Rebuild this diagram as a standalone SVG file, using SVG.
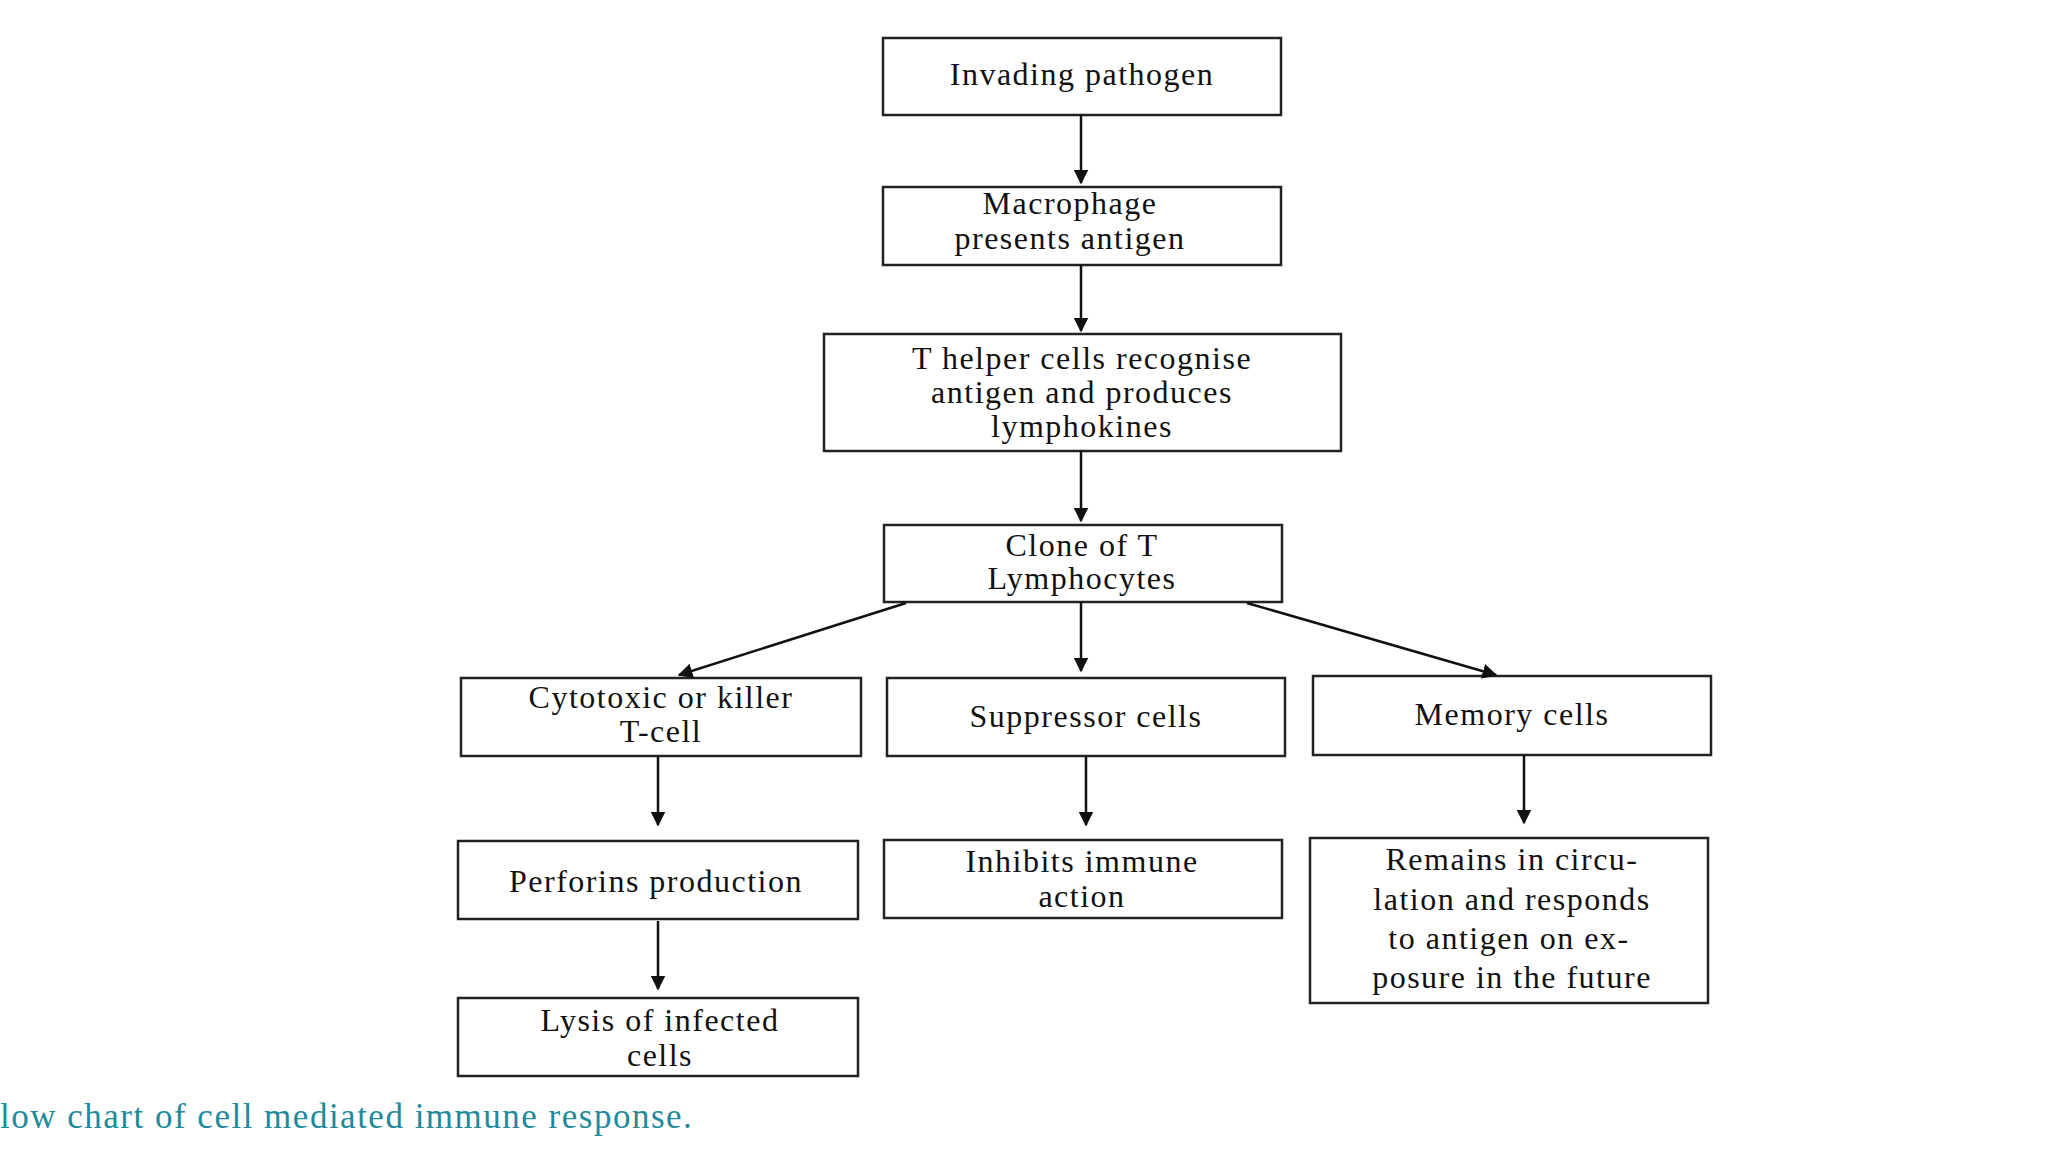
<svg xmlns="http://www.w3.org/2000/svg" width="2048" height="1152" viewBox="0 0 2048 1152">
<defs>
<style>
.b{fill:#fff;stroke:#222;stroke-width:2.5}
.t{font-family:"Liberation Serif",serif;font-size:32px;fill:#111;text-anchor:middle;letter-spacing:1.5px}
.c{stroke:#111;stroke-width:2.5;fill:none;marker-end:url(#a)}
</style>
<marker id="a" viewBox="0 0 10 10" refX="9" refY="5" markerWidth="6" markerHeight="6" orient="auto"><path d="M0,0L10,5L0,10z" fill="#111"/></marker>
</defs>
<rect width="2048" height="1152" fill="#fff"/>
<g id="n1"><rect class="b" x="883" y="38" width="398" height="77"/><text class="t" x="1082" y="85">Invading pathogen</text></g>
<g id="n2"><rect class="b" x="883" y="187" width="398" height="78"/><text class="t" x="1070" y="214">Macrophage</text><text class="t" x="1070" y="249">presents antigen</text></g>
<g id="n3"><rect class="b" x="824" y="334" width="517" height="117"/><text class="t" x="1082" y="369">T helper cells recognise</text><text class="t" x="1082" y="403">antigen and produces</text><text class="t" x="1082" y="437">lymphokines</text></g>
<g id="n4"><rect class="b" x="884" y="525" width="398" height="77"/><text class="t" x="1082" y="556">Clone of T</text><text class="t" x="1082" y="589">Lymphocytes</text></g>
<g id="n5"><rect class="b" x="461" y="678" width="400" height="78"/><text class="t" x="661" y="708">Cytotoxic or killer</text><text class="t" x="661" y="742">T-cell</text></g>
<g id="n6"><rect class="b" x="887" y="678" width="398" height="78"/><text class="t" x="1086" y="727">Suppressor cells</text></g>
<g id="n7"><rect class="b" x="1313" y="676" width="398" height="79"/><text class="t" x="1512" y="725">Memory cells</text></g>
<g id="n8"><rect class="b" x="458" y="841" width="400" height="78"/><text class="t" x="656" y="892">Perforins production</text></g>
<g id="n9"><rect class="b" x="884" y="840" width="398" height="78"/><text class="t" x="1082" y="872">Inhibits immune</text><text class="t" x="1082" y="907">action</text></g>
<g id="n10"><rect class="b" x="1310" y="838" width="398" height="165"/><text class="t" x="1512" y="870">Remains in circu-</text><text class="t" x="1512" y="910">lation and responds</text><text class="t" x="1509" y="949">to antigen on ex-</text><text class="t" x="1512" y="988">posure in the future</text></g>
<g id="n11"><rect class="b" x="458" y="998" width="400" height="78"/><text class="t" x="660" y="1031">Lysis of infected</text><text class="t" x="660" y="1066">cells</text></g>
<g id="connectors">
<line class="c" x1="1081" y1="115" x2="1081" y2="183"/>
<line class="c" x1="1081" y1="265" x2="1081" y2="331"/>
<line class="c" x1="1081" y1="451" x2="1081" y2="521"/>
<line class="c" x1="1081" y1="602" x2="1081" y2="671"/>
<line class="c" x1="906" y1="603" x2="679" y2="675"/>
<line class="c" x1="1247" y1="603" x2="1496" y2="675"/>
<line class="c" x1="658" y1="757" x2="658" y2="825"/>
<line class="c" x1="1086" y1="757" x2="1086" y2="825"/>
<line class="c" x1="1524" y1="755" x2="1524" y2="823"/>
<line class="c" x1="658" y1="921" x2="658" y2="989"/>
</g>
<text x="0" y="1128" style="font-family:'Liberation Serif',serif;font-size:35px;fill:#1f8a9c;letter-spacing:1.5px">low chart of cell mediated immune response.</text>
</svg>
